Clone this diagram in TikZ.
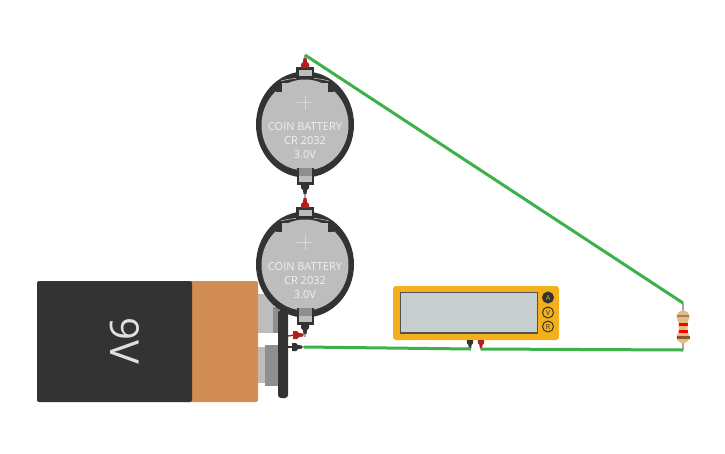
\documentclass[tikz,border=0pt]{standalone}
\usepackage{fontspec}
\setmainfont{Open Sans}
\usetikzlibrary{shapes,arrows,positioning}
\definecolor{coindark}{HTML}{333333}
\definecolor{coingray}{HTML}{BDBDBD}
\definecolor{metalgray}{HTML}{8F8F8F}
\definecolor{batorange}{HTML}{D18D54}
\definecolor{meteryellow}{HTML}{F4B01B}
\definecolor{screengray}{HTML}{C6CED0}
\definecolor{wiregreen}{HTML}{3DB149}
\definecolor{clipred}{HTML}{B01E1E}
\definecolor{restan}{HTML}{E2BC80}

\begin{document}
\begin{tikzpicture}
[x=1pt, y=-1pt, line width=1pt,
  mywire/.style={draw=wiregreen, line width=3pt},
  mylead/.style={draw=gray!70, line width=2.4pt},
  mydial/.style={circle, minimum size=11pt, inner sep=0pt, draw=coindark, line width=1pt, font=\fontsize{7}{7}\selectfont, text=coindark},
  mytext/.style={text=white!94!black, inner sep=0pt, font=\fontsize{11}{11}\selectfont},
  myclip/.pic={
    \draw[draw=gray!70, line width=1.4pt] (0,-3) -- (0,1);
    \draw[draw=none, fill=#1] (-1.5,0) -- (1.5,0) -- (2,4) -- (4,6) -- (4,10) -- (-4,10) -- (-4,6) -- (-2,4) -- cycle;
  }
]
  \useasboundingbox (0,0) rectangle (725,453);

  % 9V battery terminals
  \draw[draw=none,fill=coingray] (258,294) rectangle (274,333);
  \draw[draw=none,fill=metalgray] (273,307) rectangle (279,333);
  \draw[draw=none,fill=coingray] (258,347) rectangle (266,383);
  \draw[draw=none,fill=metalgray] (265,345) rectangle (279,386);
  \draw[draw=none,fill=coindark,rounded corners=3pt] (278,310) rectangle (288,398);

  % 9V battery
  \draw[draw=none,fill=batorange,rounded corners=2pt] (180,281) rectangle (258,402);
  \draw[draw=none,fill=coindark,rounded corners=2pt] (37,281) -- (192,281) -- (192,402) -- (37,402) -- cycle;
  \node[rotate=-90, text=white!88!black, font=\fontsize{40}{40}\selectfont] (ninevolt) at (125,341) {9V};

  % coin cells
  \foreach \yb/\nm in {0/upper,140/lower}{
    \begin{scope}[yshift=-\yb pt]
      \draw[draw=none,fill=coindark] (305,124.5) ellipse (49 and 53);
      \draw[draw=coingray,line width=0.6pt] (281,81) .. controls (295,77) and (315,77) .. (329,81);
      \draw[draw=none,fill=coingray] (305,125) ellipse (43.5 and 45.5);
      \draw[draw=none,fill=coingray] (282,83) rectangle (328,100);
      \draw[draw=none,fill=coindark] (276,84) rectangle (282,92);
      \draw[draw=none,fill=coindark] (328,84) rectangle (334,92);
      % contact tabs
      \draw[draw=none,fill=coindark] (296,67) rectangle (314,79);
      \draw[draw=none,fill=coingray] (299,70) rectangle (312,76);
      \draw[draw=none,fill=coindark] (297,168) rectangle (314,185);
      \draw[draw=none,fill=metalgray] (299,168) rectangle (312,176);
      \draw[draw=none,fill=coingray] (299,176) rectangle (312,182);
      \draw[draw=white!85!black,line width=0.5pt] (297,102) -- (313,102) (305,95) -- (305,110);
      \node[mytext] (\nm title) at (305,127) {COIN BATTERY};
      \node[mytext] (\nm type) at (305,141) {CR 2032};
      \node[mytext] (\nm volt) at (305,155) {3.0V};
    \end{scope}
  }

  % clips on the coin cells
  \coordinate (uppertip) at (305,55);
  \pic at (305,58) {myclip=clipred};
  \pic[rotate=180] at (305,194) {myclip=coindark};
  \pic at (305,198) {myclip=clipred};
  \pic[rotate=180] at (305,334) {myclip=coindark};

  % clips on the 9V battery
  \pic[rotate=-90] at (303,335) {myclip=clipred};
  \pic[rotate=-90] at (302,347) {myclip=coindark};
  \coordinate (minustip) at (304,347);
  \draw[draw=clipred, line width=1.4pt] (288,336) -- (294,335);
  \draw[draw=coindark, line width=1.4pt] (288,347) -- (294,347);

  % meter
  \node[rectangle, rounded corners=3pt, fill=meteryellow, minimum width=166pt, minimum height=54pt, inner sep=0pt] (meter) at (476,313) {};
  \draw[draw=coindark!85!white, fill=screengray, line width=1.6pt] (400.5,292.5) rectangle (537.5,333);
  \node[mydial, fill=coindark, text=meteryellow] (dialA) at (548,297.5) {A};
  \node[mydial] (dialV) at (548,312.5) {V};
  \node[mydial] (dialR) at (548,326.5) {R};
  \pic[rotate=180, scale=0.8] at (470,348) {myclip=coindark};
  \pic[rotate=180, scale=0.8] at (481,348) {myclip=clipred};
  \coordinate (blacktip) at (471,349);
  \coordinate (redtip) at (481,349);

  % resistor
  \coordinate (restop) at (683,303);
  \coordinate (resbottom) at (683,350);
  \draw[mylead] (restop) -- (resbottom);
  \draw[draw=none,fill=restan] (683,310.5) .. controls (686,310.5) and (689.5,313) .. (689.5,317)
    .. controls (689.5,320) and (687.5,320) .. (687.5,323) -- (687.5,331)
    .. controls (687.5,334) and (689.5,334) .. (689.5,337)
    .. controls (689.5,341) and (686,343) .. (683,343)
    .. controls (680,343) and (676.5,341) .. (676.5,337)
    .. controls (676.5,334) and (678.5,334) .. (678.5,331) -- (678.5,323)
    .. controls (678.5,320) and (676.5,320) .. (676.5,317)
    .. controls (676.5,313) and (680,310.5) .. (683,310.5) -- cycle;
  \draw[draw=none,fill=restan!70!black] (677,315) rectangle (689,317);
  \draw[draw=none,fill=red] (678.5,322.5) rectangle (687.5,326);
  \draw[draw=none,fill=red] (678.5,329.5) rectangle (687.5,333);
  \draw[draw=none,fill=brown!70!black] (676.5,336) rectangle (689.5,339);

  % wires
  \draw[mywire] (uppertip) -- (restop);
  \draw[mywire] (minustip) -- (blacktip);
  \draw[mywire] (redtip) -- (resbottom);
\end{tikzpicture}
\end{document}
